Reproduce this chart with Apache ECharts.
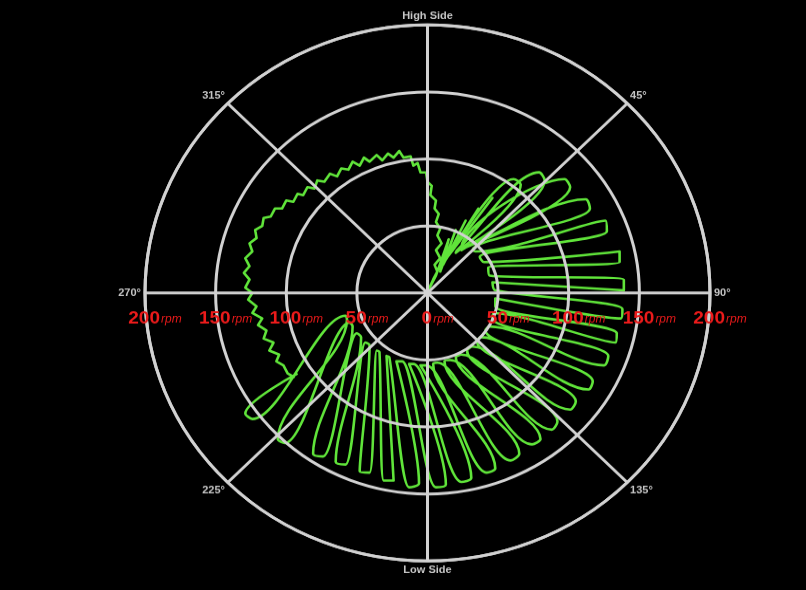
<!DOCTYPE html>
<html><head><meta charset="utf-8">
<script src="https://cdn.jsdelivr.net/npm/echarts@6/dist/echarts.min.js"></script>
<style>
html,body{margin:0;padding:0;background:#000;overflow:hidden;width:806px;height:590px;}
#chart{width:806px;height:622px;transform:scaleY(0.9487);transform-origin:0 0;}
</style></head><body><div id="chart"></div>
<script>
// Angle axis ticks and their labels
const angleTicks = [0, 45, 90, 135, 180, 225, 270, 315];
const angleTickLabels = ['High Side', '45°', '90°', '135°', 'Low Side', '225°', '270°', '315°'];
// Rings (rpm)
const ringMax = 200;
const ringStep = 50;
// Red speed labels along the horizontal line
const rpmLabelValues = [200, 150, 100, 50, 0, 50, 100, 150, 200];
const rpmLabelSides = [270, 270, 270, 270, 90, 90, 90, 90, 90];

// Trace, as [east rpm, north rpm]
const arcTrace = [
  [-94,-63],[-99,-60],[-102,-54],[-107,-51],[-105,-46],[-112,-43],[-109,-37],[-116,-34],[-114,-28],[-120,-24],
  [-117,-19],[-124,-15],[-121,-10],[-127,-5],[-124,0],[-129,4],[-126,10],[-130,15],[-126,20],[-129,26],
  [-124,31],[-126,37],[-121,41],[-122,47],[-117,50],[-116,56],[-111,57],[-108,63],[-103,63],[-100,69],
  [-95,68],[-92,74],[-88,73],[-85,79],[-80,78],[-78,84],[-73,83],[-69,89],[-64,87],[-61,93],
  [-56,92],[-53,98],[-48,95],[-45,101],[-41,98],[-36,103],[-32,99],[-28,104],[-24,101],[-20,106],
  [-17,101],[-12,102],[-10,95],[-7,97],[-5,90],[-1,90],[0,83],[3,80],[2,73],[6,69],
  [5,63],[8,59],[6,53],[9,48],[7,43],[10,37],[6,32],[9,26],[5,21],[7,16],[4,10],[1,3]
];
const fanTrace = [
  [1,3],[6,13],[15,40],[9,16],[20,47],[11,21],[27,54],[13,25],[36,63],[15,28],[46,71],[17,31]
];
const petalTrace = [
  [17,31],[61,85],[66,81],[20,30],
  [21,32],[79,90],[83,84],[24,32],
  [24,34],[97,85],[101,79],[27,34],
  [29,35],[112,70],[115,63],[32,32],
  [34,31],[126,54],[127,46],[37,27],
  [40,23],[136,31],[136,23],[43,19],
  [44,13],[139,10],[139,2],[46,8],
  [48,2],[138,-12],[137,-19],[48,-4],
  [48,-10],[134,-30],[133,-37],[47,-15],
  [46,-19],[128,-47],[125,-54],[44,-25],
  [41,-28],[117,-66],[114,-72],[38,-33],
  [35,-36],[105,-81],[101,-87],[32,-40],
  [28,-43],[92,-96],[88,-102],[24,-46],
  [20,-48],[80,-109],[74,-113],[16,-50],
  [12,-51],[65,-120],[59,-125],[7,-52],
  [4,-53],[48,-131],[42,-134],[-1,-54],
  [-5,-54],[31,-138],[24,-141],[-10,-53],
  [-13,-53],[13,-143],[6,-145],[-18,-51],
  [-22,-51],[-6,-142],[-13,-145],[-27,-48],
  [-29,-47],[-24,-140],[-31,-140],[-34,-44],
  [-36,-43],[-41,-134],[-48,-133],[-41,-39],
  [-44,-37],[-58,-128],[-65,-126],[-47,-33],
  [-50,-30],[-74,-122],[-81,-120],[-53,-25],
  [-55,-22],[-101,-112],[-106,-109],[-57,-20],
  [-58,-17],[-124,-94],[-129,-90],[-92,-60]
];

function toPolar(p) {
  const r = Math.hypot(p[0], p[1]);
  let a = Math.atan2(p[0], p[1]) * 180 / Math.PI;
  if (a < 0) a += 360;
  return [r, a];
}

const gridColor = '#d2d2d2';
const traceColor = '#60e43a';
const rpmColor = '#ec1b1b';

const chart = echarts.init(document.getElementById('chart'), null, {renderer: 'canvas'});
chart.setOption({
  backgroundColor: '#000',
  animation: false,
  polar: {center: [427.5, 308.8], radius: 282.5},
  angleAxis: {
    type: 'value', min: 0, max: 360, interval: 45, startAngle: 90, clockwise: true, z: 5,
    axisLine: {show: true, lineStyle: {color: gridColor, width: 3}},
    axisTick: {show: false},
    splitLine: {show: true, lineStyle: {color: gridColor, width: 3}},
    axisLabel: {
      margin: 4, color: '#c6c6c6', fontSize: 11, fontWeight: 'bold', fontFamily: 'Liberation Sans',
      formatter: function (v) { const i = angleTicks.indexOf(v); return i >= 0 ? angleTickLabels[i] : ''; }
    }
  },
  radiusAxis: {
    type: 'value', min: 0, max: ringMax, interval: ringStep, z: 5,
    axisLine: {show: false}, axisTick: {show: false}, axisLabel: {show: false},
    splitLine: {show: true, lineStyle: {color: gridColor, width: 3}}
  },
  series: [
    {
      type: 'line', coordinateSystem: 'polar', z: 2, silent: true,
      data: arcTrace.concat(fanTrace).map(toPolar),
      showSymbol: false, smooth: false,
      lineStyle: {color: traceColor, width: 2.6, join: 'round'}
    },
    {
      type: 'line', coordinateSystem: 'polar', z: 2, silent: true,
      data: petalTrace.map(toPolar),
      showSymbol: false, smooth: 0.3,
      lineStyle: {color: traceColor, width: 2.6, join: 'round'}
    },
    {
      type: 'scatter', coordinateSystem: 'polar', z: 10, silent: true,
      symbolSize: 1, itemStyle: {color: 'rgba(0,0,0,0)'},
      data: rpmLabelValues.map(function (v, i) {
        return {value: [v, rpmLabelSides[i]], label: {position: [-String(v).length * 5.4, 27.5]}};
      }),
      label: {
        show: true, opacity: 1, align: 'left', verticalAlign: 'middle',
        formatter: function (p) { return '{n|' + rpmLabelValues[p.dataIndex] + '}{u|rpm}'; },
        rich: {
          n: {color: rpmColor, fontSize: 19, fontWeight: 'bold', fontFamily: 'Liberation Sans'},
          u: {color: rpmColor, fontSize: 12, fontStyle: 'italic', fontFamily: 'Liberation Sans', padding: [2, 0, 0, 1]}
        }
      }
    }
  ]
});
</script></body></html>
